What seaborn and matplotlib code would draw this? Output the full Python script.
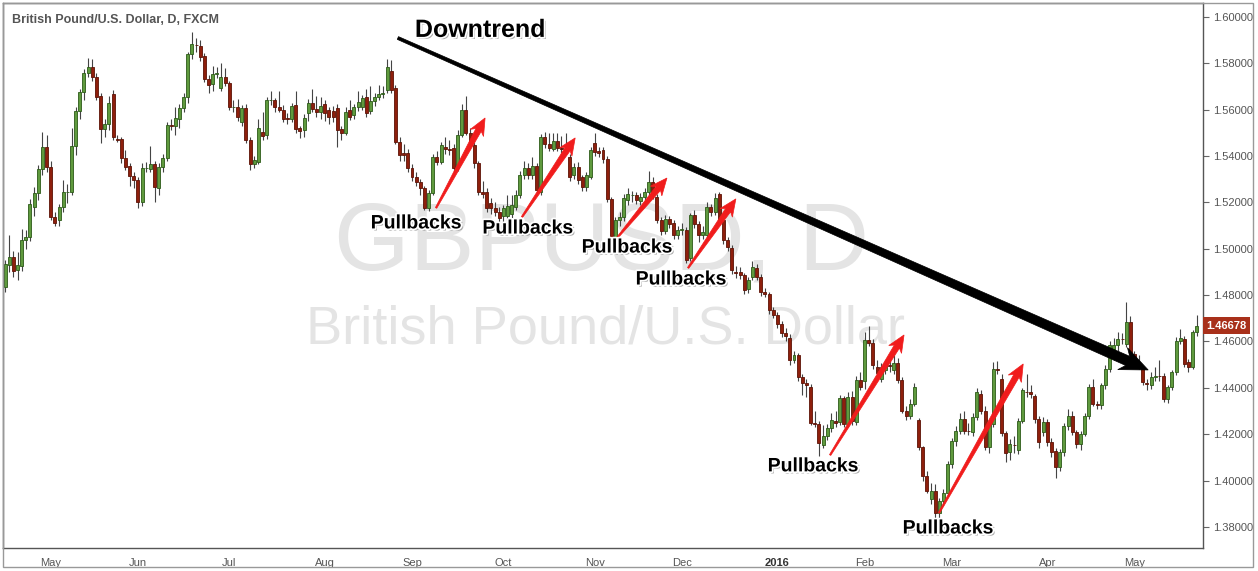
import numpy as np
import pandas as pd
import matplotlib
matplotlib.use("Agg")
import matplotlib.pyplot as plt
import matplotlib.patheffects as pe
from matplotlib.patches import Polygon, Rectangle
from matplotlib.transforms import IdentityTransform, blended_transform_factory
import seaborn as sns

# GBP/USD daily candles (first candle = 2015-04-16)
opens = [
    1.4834, 1.4930, 1.4963, 1.4907, 1.4924, 1.5037, 1.5051, 1.5179, 1.5240, 1.5343,
    1.5438, 1.5352, 1.5136, 1.5123, 1.5180, 1.5244, 1.5244, 1.5443, 1.5594, 1.5676,
    1.5758, 1.5784, 1.5741, 1.5659, 1.5516, 1.5538, 1.5667, 1.5473, 1.5473, 1.5391,
    1.5356, 1.5313, 1.5296, 1.5201, 1.5348, 1.5344, 1.5365, 1.5261, 1.5352, 1.5391,
    1.5533, 1.5529, 1.5559, 1.5607, 1.5654, 1.5840, 1.5879, 1.5875, 1.5830, 1.5732,
    1.5711, 1.5754, 1.5693, 1.5741, 1.5715, 1.5611, 1.5611, 1.5546, 1.5607, 1.5469,
    1.5365, 1.5374, 1.5503, 1.5490, 1.5641, 1.5641, 1.5611, 1.5600, 1.5563, 1.5559,
    1.5620, 1.5520, 1.5510, 1.5585, 1.5628, 1.5603, 1.5590, 1.5625, 1.5598, 1.5595,
    1.5605, 1.5516, 1.5500, 1.5598, 1.5577, 1.5611, 1.5611, 1.5654, 1.5595, 1.5637,
    1.5655, 1.5668, 1.5684, 1.5767, 1.5693, 1.5460, 1.5412, 1.5412, 1.5348, 1.5309,
    1.5287, 1.5260, 1.5175, 1.5240, 1.5395, 1.5374, 1.5438, 1.5430, 1.5434, 1.5348,
    1.5490, 1.5598, 1.5500, 1.5447, 1.5369, 1.5244, 1.5244, 1.5197, 1.5175, 1.5160,
    1.5140, 1.5140, 1.5150, 1.5180, 1.5231, 1.5317, 1.5348, 1.5317, 1.5356, 1.5244,
    1.5480, 1.5450, 1.5430, 1.5465, 1.5433, 1.5430, 1.5395, 1.5317, 1.5352, 1.5309,
    1.5266, 1.5309, 1.5456, 1.5420, 1.5425, 1.5387, 1.5214, 1.5050, 1.5123, 1.5136,
    1.5210, 1.5230, 1.5230, 1.5205, 1.5225, 1.5244, 1.5287, 1.5225, 1.5123, 1.5075,
    1.5127, 1.5110, 1.5058, 1.5080, 1.5080, 1.4959, 1.5145, 1.5105, 1.5058, 1.5058,
    1.5180, 1.5160, 1.5235, 1.5123, 1.5037, 1.5002, 1.4900, 1.4900, 1.4885, 1.4825,
    1.4877, 1.4915, 1.4877, 1.4812, 1.4805, 1.4734, 1.4713, 1.4674, 1.4635, 1.4617,
    1.4518, 1.4540, 1.4445, 1.4420, 1.4402, 1.4250, 1.4242, 1.4155, 1.4190, 1.4225,
    1.4255, 1.4251, 1.4354, 1.4242, 1.4360, 1.4251, 1.4432, 1.4430, 1.4605, 1.4592,
    1.4488, 1.4440, 1.4475, 1.4497, 1.4475, 1.4505, 1.4432, 1.4302, 1.4280, 1.4331,
    1.4260, 1.4144, 1.4021, 1.3922, 1.3957, 1.3862, 1.3912, 1.3948, 1.4071, 1.4172,
    1.4215, 1.4266, 1.4215, 1.4208, 1.4273, 1.4374, 1.4302, 1.4144, 1.4245, 1.4482,
    1.4440, 1.4205, 1.4123, 1.4155, 1.4130, 1.4259, 1.4383, 1.4381, 1.4366, 1.4266,
    1.4208, 1.4252, 1.4165, 1.4129, 1.4057, 1.4122, 1.4237, 1.4280, 1.4208, 1.4158,
    1.4201, 1.4280, 1.4403, 1.4331, 1.4324, 1.4410, 1.4482, 1.4540, 1.4583, 1.4612,
    1.4590, 1.4684, 1.4547, 1.4511, 1.4482, 1.4420, 1.4410, 1.4446, 1.4453, 1.4453,
    1.4353, 1.4403, 1.4468, 1.4604, 1.4612, 1.4511, 1.4489, 1.4640,
]
highs = [
    1.4950, 1.5058, 1.4990, 1.4985, 1.5084, 1.5080, 1.5215, 1.5268, 1.5360, 1.5503,
    1.5490, 1.5380, 1.5160, 1.5195, 1.5296, 1.5280, 1.5520, 1.5610, 1.5690, 1.5775,
    1.5823, 1.5818, 1.5760, 1.5670, 1.5560, 1.5660, 1.5685, 1.5490, 1.5480, 1.5425,
    1.5370, 1.5330, 1.5310, 1.5370, 1.5372, 1.5443, 1.5380, 1.5370, 1.5410, 1.5545,
    1.5560, 1.5610, 1.5625, 1.5670, 1.5850, 1.5935, 1.5909, 1.5900, 1.5845, 1.5750,
    1.5790, 1.5785, 1.5800, 1.5780, 1.5725, 1.5640, 1.5645, 1.5620, 1.5625, 1.5480,
    1.5400, 1.5560, 1.5590, 1.5655, 1.5680, 1.5650, 1.5680, 1.5620, 1.5585, 1.5630,
    1.5680, 1.5530, 1.5580, 1.5645, 1.5690, 1.5660, 1.5655, 1.5640, 1.5610, 1.5615,
    1.5625, 1.5530, 1.5610, 1.5640, 1.5625, 1.5680, 1.5665, 1.5690, 1.5700, 1.5670,
    1.5705, 1.5700, 1.5820, 1.5815, 1.5705, 1.5480, 1.5450, 1.5430, 1.5365, 1.5330,
    1.5300, 1.5270, 1.5255, 1.5410, 1.5420, 1.5460, 1.5480, 1.5470, 1.5450, 1.5510,
    1.5625, 1.5658, 1.5520, 1.5460, 1.5380, 1.5290, 1.5260, 1.5220, 1.5200, 1.5180,
    1.5190, 1.5230, 1.5230, 1.5255, 1.5335, 1.5380, 1.5370, 1.5395, 1.5370, 1.5495,
    1.5505, 1.5500, 1.5500, 1.5500, 1.5485, 1.5500, 1.5410, 1.5370, 1.5375, 1.5320,
    1.5330, 1.5440, 1.5499, 1.5440, 1.5440, 1.5400, 1.5225, 1.5135, 1.5160, 1.5235,
    1.5260, 1.5250, 1.5245, 1.5240, 1.5260, 1.5335, 1.5310, 1.5235, 1.5135, 1.5145,
    1.5140, 1.5125, 1.5100, 1.5110, 1.5095, 1.5155, 1.5165, 1.5120, 1.5100, 1.5200,
    1.5195, 1.5240, 1.5245, 1.5135, 1.5050, 1.5015, 1.4925, 1.4920, 1.4895, 1.4880,
    1.4945, 1.4935, 1.4890, 1.4830, 1.4815, 1.4750, 1.4725, 1.4690, 1.4660, 1.4630,
    1.4560, 1.4550, 1.4460, 1.4440, 1.4415, 1.4300, 1.4255, 1.4240, 1.4245, 1.4290,
    1.4300, 1.4370, 1.4365, 1.4380, 1.4385, 1.4450, 1.4470, 1.4640, 1.4668, 1.4610,
    1.4520, 1.4505, 1.4520, 1.4530, 1.4540, 1.4530, 1.4445, 1.4320, 1.4350, 1.4420,
    1.4270, 1.4150, 1.4040, 1.3990, 1.3985, 1.3925, 1.3965, 1.4085, 1.4185, 1.4235,
    1.4290, 1.4300, 1.4250, 1.4290, 1.4400, 1.4390, 1.4320, 1.4260, 1.4510, 1.4515,
    1.4460, 1.4215, 1.4180, 1.4190, 1.4270, 1.4400, 1.4460, 1.4410, 1.4375, 1.4280,
    1.4275, 1.4265, 1.4185, 1.4140, 1.4135, 1.4250, 1.4310, 1.4300, 1.4220, 1.4215,
    1.4290, 1.4415, 1.4440, 1.4345, 1.4420, 1.4500, 1.4600, 1.4615, 1.4640, 1.4635,
    1.4769, 1.4710, 1.4560, 1.4540, 1.4495, 1.4440, 1.4470, 1.4490, 1.4520, 1.4465,
    1.4410, 1.4475, 1.4620, 1.4655, 1.4625, 1.4525, 1.4650, 1.4715,
]
lows = [
    1.4815, 1.4900, 1.4880, 1.4864, 1.4905, 1.5000, 1.5035, 1.5140, 1.5210, 1.5320,
    1.5330, 1.5123, 1.5097, 1.5100, 1.5160, 1.5196, 1.5230, 1.5405, 1.5560, 1.5640,
    1.5740, 1.5725, 1.5640, 1.5456, 1.5480, 1.5510, 1.5470, 1.5460, 1.5370, 1.5340,
    1.5270, 1.5260, 1.5175, 1.5185, 1.5330, 1.5330, 1.5200, 1.5230, 1.5330, 1.5380,
    1.5510, 1.5490, 1.5520, 1.5590, 1.5630, 1.5820, 1.5850, 1.5810, 1.5720, 1.5670,
    1.5680, 1.5735, 1.5680, 1.5700, 1.5600, 1.5590, 1.5550, 1.5530, 1.5455, 1.5339,
    1.5350, 1.5365, 1.5470, 1.5475, 1.5620, 1.5590, 1.5590, 1.5545, 1.5540, 1.5545,
    1.5500, 1.5477, 1.5480, 1.5550, 1.5590, 1.5570, 1.5560, 1.5550, 1.5540, 1.5545,
    1.5440, 1.5470, 1.5490, 1.5555, 1.5560, 1.5595, 1.5600, 1.5570, 1.5580, 1.5615,
    1.5640, 1.5650, 1.5670, 1.5670, 1.5450, 1.5380, 1.5380, 1.5330, 1.5290, 1.5270,
    1.5230, 1.5165, 1.5163, 1.5230, 1.5360, 1.5365, 1.5410, 1.5405, 1.5330, 1.5335,
    1.5480, 1.5490, 1.5430, 1.5350, 1.5230, 1.5220, 1.5160, 1.5150, 1.5140, 1.5110,
    1.5115, 1.5125, 1.5130, 1.5165, 1.5220, 1.5300, 1.5300, 1.5300, 1.5240, 1.5230,
    1.5435, 1.5420, 1.5420, 1.5420, 1.5415, 1.5410, 1.5290, 1.5300, 1.5280, 1.5250,
    1.5250, 1.5300, 1.5400, 1.5395, 1.5370, 1.5200, 1.5040, 1.5040, 1.5100, 1.5120,
    1.5190, 1.5200, 1.5195, 1.5190, 1.5210, 1.5230, 1.5215, 1.5110, 1.5060, 1.5065,
    1.5090, 1.5040, 1.5040, 1.5060, 1.4940, 1.4945, 1.5090, 1.5030, 1.5040, 1.5045,
    1.5140, 1.5145, 1.5110, 1.5020, 1.4990, 1.4890, 1.4875, 1.4870, 1.4805, 1.4810,
    1.4865, 1.4865, 1.4795, 1.4790, 1.4720, 1.4700, 1.4660, 1.4620, 1.4600, 1.4500,
    1.4505, 1.4430, 1.4370, 1.4360, 1.4240, 1.4230, 1.4105, 1.4140, 1.4175, 1.4210,
    1.4230, 1.4240, 1.4230, 1.4230, 1.4240, 1.4240, 1.4390, 1.4395, 1.4580, 1.4480,
    1.4440, 1.4425, 1.4460, 1.4470, 1.4460, 1.4420, 1.4290, 1.4260, 1.4265, 1.4320,
    1.4130, 1.4000, 1.3945, 1.3900, 1.3840, 1.3835, 1.3895, 1.3935, 1.4055, 1.4150,
    1.4200, 1.4200, 1.4195, 1.4190, 1.4260, 1.4285, 1.4130, 1.4120, 1.4230, 1.4460,
    1.4190, 1.4080, 1.4090, 1.4120, 1.4115, 1.4250, 1.4360, 1.4355, 1.4250, 1.4140,
    1.4190, 1.4150, 1.4100, 1.4010, 1.4040, 1.4105, 1.4220, 1.4195, 1.4140, 1.4130,
    1.4190, 1.4265, 1.4320, 1.4310, 1.4310, 1.4395, 1.4470, 1.4520, 1.4560, 1.4590,
    1.4575, 1.4530, 1.4500, 1.4480, 1.4410, 1.4390, 1.4395, 1.4430, 1.4430, 1.4340,
    1.4335, 1.4390, 1.4455, 1.4590, 1.4490, 1.4470, 1.4480, 1.4625,
]
closes = [
    1.4933, 1.4963, 1.4903, 1.4929, 1.5037, 1.5050, 1.5192, 1.5240, 1.5343, 1.5438,
    1.5352, 1.5136, 1.5110, 1.5180, 1.5244, 1.5246, 1.5443, 1.5594, 1.5676, 1.5758,
    1.5784, 1.5741, 1.5654, 1.5516, 1.5538, 1.5628, 1.5482, 1.5470, 1.5391, 1.5352,
    1.5313, 1.5296, 1.5201, 1.5348, 1.5350, 1.5365, 1.5266, 1.5352, 1.5391, 1.5533,
    1.5530, 1.5564, 1.5607, 1.5654, 1.5840, 1.5883, 1.5877, 1.5827, 1.5732, 1.5705,
    1.5754, 1.5756, 1.5741, 1.5715, 1.5611, 1.5613, 1.5568, 1.5607, 1.5469, 1.5365,
    1.5382, 1.5520, 1.5486, 1.5641, 1.5643, 1.5611, 1.5600, 1.5559, 1.5561, 1.5616,
    1.5516, 1.5507, 1.5564, 1.5628, 1.5603, 1.5590, 1.5614, 1.5585, 1.5568, 1.5568,
    1.5512, 1.5500, 1.5590, 1.5570, 1.5611, 1.5633, 1.5650, 1.5585, 1.5637, 1.5655,
    1.5668, 1.5672, 1.5784, 1.5684, 1.5460, 1.5404, 1.5404, 1.5348, 1.5309, 1.5287,
    1.5260, 1.5175, 1.5240, 1.5395, 1.5376, 1.5447, 1.5430, 1.5425, 1.5348, 1.5490,
    1.5598, 1.5500, 1.5447, 1.5369, 1.5244, 1.5237, 1.5175, 1.5175, 1.5160, 1.5132,
    1.5175, 1.5183, 1.5190, 1.5231, 1.5317, 1.5348, 1.5317, 1.5356, 1.5253, 1.5480,
    1.5450, 1.5433, 1.5465, 1.5433, 1.5430, 1.5432, 1.5309, 1.5352, 1.5295, 1.5266,
    1.5317, 1.5425, 1.5417, 1.5415, 1.5387, 1.5214, 1.5050, 1.5123, 1.5136, 1.5218,
    1.5235, 1.5232, 1.5210, 1.5225, 1.5245, 1.5287, 1.5230, 1.5123, 1.5075, 1.5127,
    1.5105, 1.5058, 1.5080, 1.5085, 1.4950, 1.5145, 1.5105, 1.5058, 1.5070, 1.5180,
    1.5160, 1.5220, 1.5123, 1.5037, 1.5006, 1.4907, 1.4894, 1.4885, 1.4820, 1.4865,
    1.4920, 1.4877, 1.4812, 1.4805, 1.4734, 1.4713, 1.4674, 1.4635, 1.4625, 1.4518,
    1.4540, 1.4445, 1.4420, 1.4410, 1.4250, 1.4245, 1.4160, 1.4190, 1.4225, 1.4263,
    1.4250, 1.4354, 1.4242, 1.4360, 1.4255, 1.4432, 1.4405, 1.4605, 1.4595, 1.4497,
    1.4466, 1.4488, 1.4497, 1.4495, 1.4505, 1.4432, 1.4302, 1.4280, 1.4331, 1.4402,
    1.4144, 1.4021, 1.3957, 1.3957, 1.3862, 1.3912, 1.3948, 1.4071, 1.4172, 1.4215,
    1.4266, 1.4215, 1.4212, 1.4273, 1.4381, 1.4302, 1.4144, 1.4245, 1.4482, 1.4475,
    1.4205, 1.4120, 1.4159, 1.4152, 1.4259, 1.4389, 1.4380, 1.4374, 1.4266, 1.4165,
    1.4252, 1.4165, 1.4122, 1.4057, 1.4122, 1.4237, 1.4280, 1.4208, 1.4158, 1.4201,
    1.4280, 1.4403, 1.4331, 1.4324, 1.4410, 1.4482, 1.4583, 1.4583, 1.4612, 1.4610,
    1.4684, 1.4547, 1.4518, 1.4497, 1.4424, 1.4417, 1.4446, 1.4453, 1.4451, 1.4353,
    1.4403, 1.4468, 1.4604, 1.4614, 1.4504, 1.4489, 1.4640, 1.46678,
]
last_price = 1.46678
price_ticks = [1.38, 1.40, 1.42, 1.44, 1.46, 1.48, 1.50, 1.52, 1.54, 1.56, 1.58, 1.60]

# annotations: (candle index, price)
trend_start = (94.6, 1.5909)
trend_end = (275.3, 1.4477)
pull_tail_x = [103.8, 124.5, 147.6, 164.5, 198.7, 224.9]
pull_tail_y = [1.5176, 1.5137, 1.5051, 1.4917, 1.4110, 1.3860]
pull_head_x = [115.6, 137.3, 159.4, 176.0, 216.5, 245.2]
pull_head_y = [1.5564, 1.5478, 1.5305, 1.5215, 1.4628, 1.4503]
pull_text_x = [99.0, 125.9, 149.8, 162.8, 194.6, 227.1]
pull_text_y = [1.5107, 1.5085, 1.5003, 1.4865, 1.4059, 1.3791]

df = pd.DataFrame({"open": opens, "high": highs, "low": lows, "close": closes})
df["date"] = pd.bdate_range("2015-04-16", periods=len(df))
df["i"] = np.arange(len(df))
up = df[df.close >= df.open]
down = df[df.close < df.open]

sns.set_theme(style="white")
plt.rcParams["font.family"] = ["Liberation Sans", "DejaVu Sans"]

W, H = 1258, 571
fig = plt.figure(figsize=(W / 100, H / 100), dpi=100)
fig.patch.set_facecolor("white")
ax = fig.add_axes([3 / W, 23 / H, 1200 / W, 545 / H])
ax.set_xlim(-0.5, len(df) + 0.5)
ax.set_ylim(1.3709, 1.6060)

# watermark
ax.text(0.499, 0.556, "GBPUSD, D", transform=ax.transAxes, ha="center", va="center",
        fontsize=70, color="#e4e4e4", zorder=0)
ax.text(0.502, 0.40, "British Pound/U.S. Dollar", transform=ax.transAxes, ha="center",
        va="center", fontsize=39, color="#e4e4e4", zorder=0)
ax.text(0.0075, 0.969, "British Pound/U.S. Dollar, D, FXCM", transform=ax.transAxes,
        ha="left", va="center", fontsize=9, fontweight="bold", color="#555555", zorder=5)

# candles
ax.vlines(df.i, df.low, df.high, color="#444444", lw=0.8, zorder=2)
ax.bar(up.i, up.close - up.open, bottom=up.open, width=0.72, color="#5f9a3e",
       edgecolor="#2c5a18", lw=0.6, zorder=3)
ax.bar(down.i, down.open - down.close, bottom=down.close, width=0.72, color="#8e1f0c",
       edgecolor="#5c1206", lw=0.6, zorder=3)

# axes styling
for s in ax.spines.values():
    s.set_color("#555555")
    s.set_linewidth(1)
ax.yaxis.tick_right()
ax.set_yticks(price_ticks)
ax.set_yticklabels([f"{v:.5f}" for v in price_ticks])
ax.tick_params(axis="y", direction="out", length=4, width=0.8, color="#666666",
               labelsize=8, labelcolor="#555555", pad=3)
month_first = df.groupby(df.date.dt.to_period("M")).i.min()
month_first = month_first[month_first > 0]
labels = [("2016" if p.month == 1 else p.strftime("%b")) for p in month_first.index]
ax.set_xticks(month_first.values)
ax.set_xticklabels(labels)
ax.tick_params(axis="x", direction="out", length=4, width=0.8, color="#666666",
               labelsize=8, labelcolor="#555555", pad=3)
for t in ax.get_xticklabels():
    if t.get_text() == "2016":
        t.set_fontweight("bold")
        t.set_color("#333333")

# last price tag
ax.text(1.003, last_price, f"{last_price:.5f}",
        transform=blended_transform_factory(ax.transAxes, ax.transData),
        ha="left", va="center", fontsize=8, fontweight="bold", color="white",
        bbox=dict(boxstyle="square,pad=0.3", fc="#a8301a", ec="none"))


def tapered_arrow(p0, p1, w_tail, w_neck, head_w, head_len, color):
    a = ax.transData.transform(p0)
    b = ax.transData.transform(p1)
    u = (b - a) / np.hypot(*(b - a))
    n = np.array([-u[1], u[0]])
    base = b - u * head_len
    neck = b - u * head_len * 0.8
    pts = [a + n * w_tail / 2, neck + n * w_neck / 2, base + n * head_w / 2, b,
           base - n * head_w / 2, neck - n * w_neck / 2, a - n * w_tail / 2]
    ax.add_patch(Polygon(pts, closed=True, transform=IdentityTransform(), fc=color,
                         ec=color, lw=0.5, zorder=6, clip_on=False))


halo = [pe.SimplePatchShadow(offset=(1.5, -1.5), shadow_rgbFace="#777777", alpha=0.6),
        pe.Stroke(linewidth=2.5, foreground="white"), pe.Normal()]

tapered_arrow(trend_start, trend_end, 3, 10, 24, 28, "black")
ax.text(98.7, 1.5944, "Downtrend", ha="left", va="center", fontsize=18,
        fontweight="bold", color="black", zorder=7, path_effects=halo)

for tx, ty, hx, hy in zip(pull_tail_x, pull_tail_y, pull_head_x, pull_head_y):
    tapered_arrow((tx, ty), (hx, hy), 1.5, 6, 15, 17, "#f01c1c")
for x, y in zip(pull_text_x, pull_text_y):
    ax.text(x, y, "Pullbacks", ha="center", va="center", fontsize=14,
            fontweight="bold", color="black", zorder=7, path_effects=halo)

fig.add_artist(Rectangle((3 / W, 4 / H), 1250 / W, 564 / H, transform=fig.transFigure,
                         fill=False, edgecolor="#999999", lw=1))

fig.savefig("out.png", dpi=100)
